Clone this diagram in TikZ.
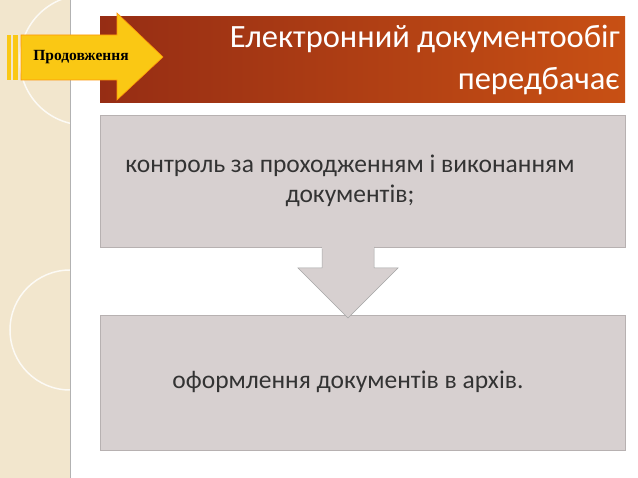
\documentclass[tikz,border=0pt]{standalone}
\usepackage{fontspec}
\setmainfont{Carlito}
\newfontfamily\serifb{Liberation Serif}
\begin{document}
\begin{tikzpicture}[x=1pt,y=-1pt,
  greybox/.style={fill=boxgrey, draw=boxgrey!85!black, line width=0.4pt},
  boxtext/.style={font=\fontsize{25.5}{30}\selectfont, text=black!80, align=center}]
\definecolor{boxgrey}{RGB}{215,208,208}
\definecolor{beige}{RGB}{242,230,205}
\definecolor{bannerL}{RGB}{150,45,20}
\definecolor{bannerR}{RGB}{200,80,20}
\definecolor{yel}{RGB}{250,200,20}
\useasboundingbox (0,0) rectangle (638,478);
\fill[white] (0,0) rectangle (638,478);
% left strip
\fill[beige] (0,0) rectangle (70,478);
\begin{scope}
\clip (0,0) rectangle (70,478);
\draw[white!80!beige, line width=1.5pt] (85,60) circle[radius=65];
\draw[white!80!beige, line width=1.5pt] (70,330) circle[radius=60];
\end{scope}
\draw[gray!60, line width=0.6pt] (70,0) -- (70,478);
% banner
\shade[left color=bannerL, right color=bannerR] (100,17) rectangle (625,103);
\node[anchor=east, font=\fontsize{32.5}{42}\selectfont, text=white, align=right, inner sep=0pt] (title) at (620,60) {Електронний документообіг\\передбачає};
% yellow arrow
\fill[yel] (7,35) rectangle (11,80);
\fill[yel] (13,35) rectangle (18,80);
\fill[yel, draw=orange!70!yel, line width=0.6pt] (21,35) -- (117,35) -- (117,13) -- (163,57) -- (117,100) -- (117,80) -- (21,80) -- cycle;
\node[font=\serifb\bfseries\fontsize{15.5}{18}\selectfont] (cont) at (81,57) {Продовження};
% boxes
\draw[greybox] (100,115) rectangle (625,247);
\node[boxtext] (t1) at (350,181) {контроль за проходженням і виконанням\\документів;};
\draw[greybox] (100,315) rectangle (625,450);
\node[boxtext] (t2) at (348,382) {оформлення документів в архів.};
% down arrow
\fill[boxgrey, draw=gray!70, line width=0.5pt] (322,247) -- (322,268) -- (298,268) -- (348,318) -- (398,268) -- (374,268) -- (374,247);
\fill[boxgrey] (322.3,245) rectangle (373.7,249);
\end{tikzpicture}
\end{document}
